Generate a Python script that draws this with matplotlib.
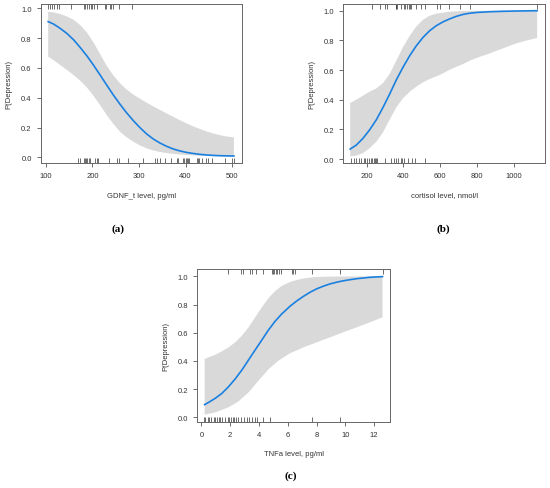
import numpy as np
import matplotlib.pyplot as plt

plt.rcParams['font.family'] = ['Liberation Sans', 'DejaVu Sans']

# ---- panel (a): GDNF_t ----
gdnf_x = [105.0, 116.4, 130.7, 145.0, 159.3, 173.6, 187.9, 202.1, 216.4, 230.7,
          245.0, 259.3, 273.6, 287.9, 302.1, 316.4, 330.7, 345.0, 359.3, 373.6,
          387.9, 402.1, 416.4, 430.7, 445.0, 459.3, 473.6, 487.9, 503.6]
gdnf_fit = [0.911, 0.895, 0.866, 0.832, 0.790, 0.738, 0.682, 0.620, 0.553, 0.485,
            0.418, 0.356, 0.298, 0.246, 0.199, 0.157, 0.123, 0.096, 0.074, 0.056,
            0.043, 0.033, 0.026, 0.020, 0.016, 0.013, 0.011, 0.010, 0.009]
gdnf_hi = [0.978, 0.973, 0.962, 0.946, 0.924, 0.888, 0.839, 0.772, 0.694, 0.615,
           0.550, 0.497, 0.455, 0.421, 0.393, 0.367, 0.342, 0.318, 0.295, 0.272,
           0.249, 0.228, 0.208, 0.190, 0.174, 0.160, 0.149, 0.140, 0.134]
gdnf_lo = [0.676, 0.653, 0.620, 0.588, 0.553, 0.515, 0.470, 0.414, 0.351, 0.284,
           0.224, 0.172, 0.134, 0.105, 0.080, 0.060, 0.046, 0.036, 0.029, 0.023,
           0.019, 0.016, 0.013, 0.011, 0.010, 0.009, 0.008, 0.007, 0.007]
gdnf_rug1 = [105, 109, 114, 118, 124, 129, 154, 181, 184, 188, 193, 197, 200,
             204, 209, 226, 229, 238, 240, 244, 258, 284]
gdnf_rug0 = [170, 174, 181, 183, 186, 189, 193, 195, 206, 209, 213, 236, 252,
             257, 277, 308, 334, 339, 345, 356, 368, 381, 384, 394, 396, 400,
             402, 406, 408, 424, 426, 429, 436, 443, 449, 456, 484, 499, 504]

# ---- panel (b): cortisol ----
cort_x = [111, 144, 180, 216, 253, 289, 325, 361, 397, 434, 470, 506, 542, 578,
          615, 651, 687, 723, 759, 796, 868, 940, 1013, 1125]
cort_fit = [0.067, 0.094, 0.139, 0.196, 0.265, 0.348, 0.438, 0.533, 0.618, 0.697,
            0.764, 0.820, 0.865, 0.899, 0.925, 0.945, 0.962, 0.975, 0.983, 0.988,
            0.993, 0.996, 0.998, 1.0]
cort_hi = [0.378, 0.400, 0.427, 0.454, 0.476, 0.512, 0.573, 0.663, 0.753, 0.831,
           0.894, 0.939, 0.966, 0.980, 0.987, 0.993, 0.996, 0.998, 0.999, 0.999,
           1.0, 1.0, 1.0, 1.0]
cort_lo_x = [111, 144, 180, 216, 253, 289, 325, 361, 397, 434, 470, 506, 542, 578,
             615, 651, 687, 723, 759, 796, 832, 868, 904, 940, 977, 1013, 1049,
             1085, 1125]
cort_lo = [0.018, 0.022, 0.040, 0.072, 0.117, 0.180, 0.265, 0.348, 0.409, 0.454,
           0.488, 0.517, 0.539, 0.557, 0.578, 0.602, 0.622, 0.640, 0.663, 0.681,
           0.697, 0.712, 0.730, 0.746, 0.764, 0.780, 0.793, 0.804, 0.816]
cort_rug1 = [231, 271, 298, 312, 357, 361, 365, 388, 401, 410, 419, 428, 433,
             443, 470, 497, 515, 582, 596, 647, 705, 759, 1125]
cort_rug0 = [117, 129, 144, 157, 171, 184, 193, 204, 213, 225, 231, 238, 243,
             249, 258, 298, 334, 347, 357, 370, 388, 394, 401, 424, 448, 461, 515]

# ---- panel (c): TNFa ----
tnf_x = [0.23, 0.51, 0.97, 1.43, 1.89, 2.35, 2.82, 3.28, 3.74, 4.20, 4.66, 5.12,
         5.58, 6.16, 6.62, 7.09, 7.55, 8.01, 8.47, 8.93, 9.39, 9.85, 10.32,
         10.78, 11.24, 11.70, 12.58]
tnf_fit = [0.090, 0.106, 0.135, 0.170, 0.217, 0.272, 0.336, 0.407, 0.478, 0.548,
           0.619, 0.681, 0.733, 0.788, 0.825, 0.858, 0.887, 0.911, 0.930, 0.946,
           0.958, 0.968, 0.976, 0.983, 0.988, 0.993, 0.998]
tnf_hi_x = [0.23, 0.51, 0.97, 1.43, 1.89, 2.35, 2.82, 3.28, 3.74, 4.20, 4.66,
            5.12, 5.58, 6.16, 6.62, 7.09, 7.55, 8.01, 8.93, 12.58]
tnf_hi = [0.414, 0.426, 0.444, 0.468, 0.496, 0.532, 0.579, 0.638, 0.709, 0.780,
          0.845, 0.895, 0.932, 0.960, 0.974, 0.984, 0.991, 0.995, 0.998, 1.0]
tnf_lo_x = [0.23, 0.97, 1.89, 2.58, 3.28, 3.97, 4.66, 5.35, 6.16, 7.09, 8.01,
            8.93, 9.85, 10.78, 11.70, 12.58]
tnf_lo = [0.019, 0.035, 0.071, 0.113, 0.177, 0.260, 0.340, 0.402, 0.454, 0.496,
          0.532, 0.567, 0.603, 0.638, 0.674, 0.709]
tnf_rug1 = [1.82, 2.77, 2.86, 3.39, 3.51, 3.78, 4.27, 4.89, 4.96, 5.05, 5.17,
            5.28, 5.40, 5.54, 6.28, 6.39, 6.51, 7.66, 9.62, 12.58]
tnf_rug0 = [0.16, 0.28, 0.44, 0.55, 0.67, 0.85, 0.97, 1.08, 1.20, 1.32, 1.43,
            1.66, 1.82, 1.94, 2.05, 2.17, 2.28, 2.42, 2.52, 2.75, 2.93, 3.16,
            3.32, 3.51, 3.74, 3.90, 4.27, 4.78, 7.66, 9.62]

panels = [
    dict(rect=[0.074, 0.6646, 0.366, 0.3245], x=gdnf_x, fit=gdnf_fit,
         hx=gdnf_x, hi=gdnf_hi, lx=gdnf_x, lo=gdnf_lo, r1=gdnf_rug1, r0=gdnf_rug0,
         xlim=(89, 521), ylim=(-0.038, 1.027),
         xticks=np.arange(100, 501, 100), xlabel='GDNF_t level, pg/ml',
         cap='(a)', cap_xy=(118 / 550, 1 - 229 / 489)),
    dict(rect=[0.624, 0.6646, 0.367, 0.3245], x=cort_x, fit=cort_fit,
         hx=cort_x, hi=cort_hi, lx=cort_lo_x, lo=cort_lo, r1=cort_rug1, r0=cort_rug0,
         xlim=(73, 1168), ylim=(-0.027, 1.043),
         xticks=np.arange(200, 1001, 200), xlabel='cortisol level, nmol/l',
         cap='(b)', cap_xy=(443 / 550, 1 - 229 / 489)),
    dict(rect=[0.3587, 0.1356, 0.3504, 0.3117], x=tnf_x, fit=tnf_fit,
         hx=tnf_hi_x, hi=tnf_hi, lx=tnf_lo_x, lo=tnf_lo, r1=tnf_rug1, r0=tnf_rug0,
         xlim=(-0.28, 13.1), ylim=(-0.031, 1.05),
         xticks=np.arange(0, 13, 2), xlabel='TNFa level, pg/ml',
         cap='(c)', cap_xy=(291 / 550, 1 - 476 / 489)),
]

fig = plt.figure(figsize=(5.5, 4.89), dpi=100)

for p in panels:
    ax = fig.add_axes(p['rect'])
    # confidence band: upper edge forward, lower edge back
    band_x = list(p['hx']) + list(p['lx'])[::-1]
    band_y = list(p['hi']) + list(p['lo'])[::-1]
    ax.fill(band_x, band_y, color='#d9d9d9', lw=0)
    ax.plot(p['x'], p['fit'], color='#1a80e0', lw=1.2)
    # rug marks: top for depressed, bottom for not
    ax.vlines(p['r1'], 0.972, 1.0, transform=ax.get_xaxis_transform(),
              color='#333333', lw=0.5)
    ax.vlines(p['r0'], 0.0, 0.03, transform=ax.get_xaxis_transform(),
              color='#333333', lw=0.5)
    ax.set_xlim(p['xlim'])
    ax.set_ylim(p['ylim'])
    ax.set_xticks(p['xticks'])
    ax.set_yticks(np.arange(0, 1.01, 0.2))
    ax.set_yticklabels(['%.1f' % v for v in np.arange(0, 1.01, 0.2)])
    ax.tick_params(direction='out', length=3, width=0.6, color='#555555',
                   labelsize=5.5, labelcolor='#333333', pad=3.5)
    for s in ax.spines.values():
        s.set_color('#666666')
        s.set_linewidth(0.7)
    ax.set_xlabel(p['xlabel'], fontsize=5.5, color='#333333', labelpad=9)
    ax.set_ylabel('P(Depression)', fontsize=5.5, color='#333333', labelpad=6)
    fig.text(p['cap_xy'][0], p['cap_xy'][1], p['cap'], ha='center', va='center',
             fontsize=8, fontweight='bold', family='Liberation Serif')

fig.savefig('out.png', dpi=100)
